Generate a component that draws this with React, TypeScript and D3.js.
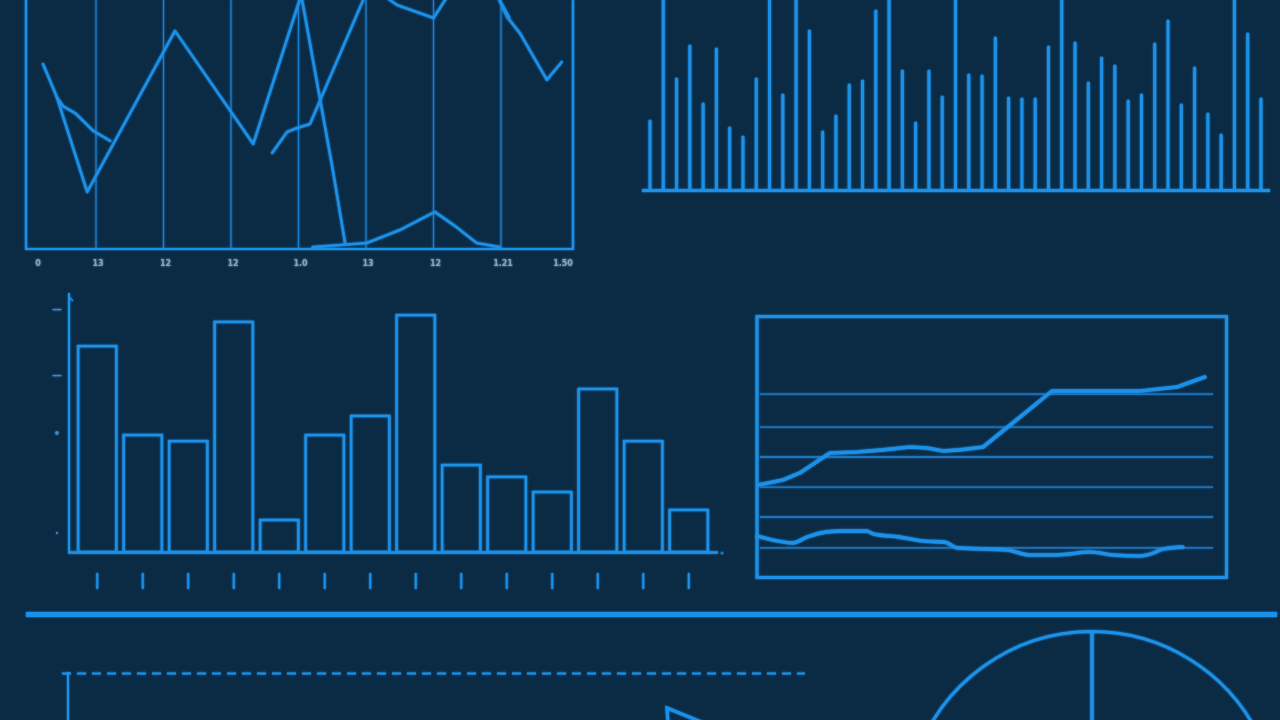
import React from 'react';
import * as d3 from 'd3';

const BG = '#0b2a44';
const BLUE = '#1c90e6';
const GRID = '#1f7fcf';

// ---------- Panel 1: multi-line chart (top-left) ----------
const p1Ticks = [0, 10, 20, 30, 40, 50, 60, 70, 80];
const p1TickLabels = ['0', '13', '12', '12', '1.0', '13', '12', '1.21', '1.50'];
const p1Grid = [10, 20, 30, 40, 50, 60, 70];
const p1LineA: [number, number][] = [[2.15, 74.3], [4.2, 61], [8.7, 22.9], [21.7, 87.6], [33.3, 42.2], [40.4, 102], [45, 33], [46.9, 2.4]];
const p1LineB: [number, number][] = [[4.2, 61], [5.1, 57.4], [6.9, 54.6], [9.6, 47.4], [12.1, 43.4]];
const p1LineC: [number, number][] = [[42.1, 0.8], [46.2, 1.6], [50.1, 2.4], [55, 7.6], [60.2, 14.9], [63.2, 9.2], [66.4, 2.4], [69.8, 0.8]];
const p1LineD: [number, number][] = [[36.1, 38.6], [38.3, 47], [39.8, 48.6], [41.7, 50.2], [49.9, 102], [51.2, 108], [52.5, 102], [54.6, 98], [60, 92.8], [62.2, 102], [65.4, 108], [69.4, 102], [70.9, 93.2], [72.8, 86.7], [76.8, 67.9], [79, 75.1]];
const p1LineE: [number, number][] = [[69.6, 101], [71.2, 93]];

// ---------- Panel 2: spike chart (top-right) ----------
const spikeValues = [
  36.3, 110, 58.4, 75.8, 45.3, 74.2, 32.6, 27.9, 58.4, 110, 50, 110, 83.7, 30.5, 38.9, 55.3,
  57.4, 94.2, 110, 62.6, 35.3, 62.6, 48.9, 110, 60.5, 60, 80, 48.4, 47.9, 47.9, 75.3, 110,
  77.4, 56.3, 69.5, 65.3, 46.8, 50, 76.8, 88.9, 44.7, 64.2, 40, 29, 110, 82.1, 47.9,
];

// ---------- Panel 3: bar chart ----------
const barCategories = ['A', 'B', 'C', 'D', 'E', 'F', 'G', 'H', 'I', 'J', 'K', 'L', 'M', 'N'];
const barValues = [81.7, 46.4, 44, 91.3, 12.7, 46.4, 54, 94, 34.5, 29.8, 23.8, 64.7, 44, 16.7];
const barYTicks = [96, 70, 47, 7];
const barYTickLabels = ['—', '—', '•', '·'];

// ---------- Panel 4: boxed line chart ----------
const p4Grid = [11.5, 23.3, 34.7, 46.2, 57.6, 70.2];
const p4Upper: [number, number][] = [[0.2, 35.5], [5.5, 37.4], [9.1, 40.1], [15.5, 47.7], [21.3, 48.1], [26.8, 48.9], [32.6, 50], [36.2, 49.6], [39.6, 48.5], [43.2, 48.9], [48.1, 50], [62.8, 71.4], [67.2, 71.4], [74.5, 71.4], [81.5, 71.4], [89.4, 72.9], [95.3, 76.7]];
const p4Lower: [number, number][] = [[0, 16], [7.7, 13.4], [10.6, 15.6], [14.9, 17.6], [17.7, 17.9], [23.4, 17.9], [24.7, 16.8], [30.4, 15.6], [35.3, 14.1], [40, 13.7], [42.6, 11.5], [53.2, 10.7], [58.1, 8.8], [63.8, 8.8], [70.9, 9.9], [75.7, 8.8], [81.5, 8.4], [84.3, 9.5], [86.4, 11.1], [90.6, 11.8]];

// ---------- Bottom pie ----------
const pieValues = [35, 25, 40];

export default function App() {
  // Panel 1 scales
  const x1 = d3.scaleLinear().domain([0, 80]).range([28.5, 568.5]);
  const y1 = d3.scaleLinear().domain([0, 100]).range([249, 0]);
  const line1 = d3.line<[number, number]>().x(d => x1(d[0])).y(d => y1(d[1]));

  // Panel 2 scales
  const x2 = d3.scalePoint<number>().domain(spikeValues.map((_, i) => i)).range([650, 1261]);
  const y2 = d3.scaleLinear().domain([0, 100]).range([190, 0]);

  // Panel 3 scales
  const x3 = d3.scaleBand<string>().domain(barCategories).range([74.5, 711.5]).paddingInner(0.16).paddingOuter(0.08);
  const y3 = d3.scaleLinear().domain([0, 100]).range([552, 300]);

  // Panel 4 scales
  const x4 = d3.scaleLinear().domain([0, 100]).range([757, 1227]);
  const y4 = d3.scaleLinear().domain([0, 100]).range([578, 316]);
  const line4Upper = d3.line<[number, number]>().x(d => x4(d[0])).y(d => y4(d[1]));
  const line4Lower = d3.line<[number, number]>().x(d => x4(d[0])).y(d => y4(d[1])).curve(d3.curveMonotoneX);

  // Pie
  const pie = d3.pie<number>().sort(null)(pieValues);
  const arc = d3.arc<d3.PieArcDatum<number>>().innerRadius(0).outerRadius(186);

  return (
    <svg width={1280} height={720} style={{ position: 'fixed', left: 0, top: 0, display: 'block' }}>
      <defs>
        <filter id="glow" x="-5%" y="-5%" width="110%" height="110%">
          <feGaussianBlur stdDeviation="1.2" result="b" />
          <feMerge>
            <feMergeNode in="b" />
            <feMergeNode in="SourceGraphic" />
          </feMerge>
        </filter>
      </defs>
      <rect x={0} y={0} width={1280} height={720} fill={BG} />

      <g filter="url(#glow)">
        {/* Panel 1 */}
        <g>
          {p1Grid.map(g => (
            <line key={g} x1={x1(g)} x2={x1(g)} y1={0} y2={249} stroke={GRID} strokeWidth={1.2} />
          ))}
          <path d={`M26,0 L26,249 L573,249 L573,0`} fill="none" stroke={BLUE} strokeWidth={2.2} />
          {[p1LineA, p1LineB, p1LineC, p1LineD, p1LineE].map((l, i) => (
            <path key={i} d={line1(l) || ''} fill="none" stroke={BLUE} strokeWidth={2.6} strokeLinejoin="round" strokeLinecap="round" />
          ))}
          {p1Ticks.map((t, i) => (
            <text key={t} x={Math.min(Math.max(x1(t) + 2, 38), 563)} y={266} fontSize={8} fontWeight={700}
              fontFamily="DejaVu Sans, sans-serif" textAnchor="middle" fill="#8fb0cc" opacity={0.85}>
              {p1TickLabels[i]}
            </text>
          ))}
        </g>

        {/* Panel 2 */}
        <g>
          {spikeValues.map((v, i) => (
            <line key={i} x1={x2(i)} x2={x2(i)} y1={190} y2={y2(v)} stroke={BLUE} strokeWidth={3} strokeLinecap="round" />
          ))}
          <line x1={642} x2={1270} y1={190.5} y2={190.5} stroke={BLUE} strokeWidth={3} />
        </g>

        {/* Panel 3 */}
        <g>
          <line x1={69} x2={69} y1={293} y2={552} stroke={BLUE} strokeWidth={2} />
          <path d="M69,297 L73,301" stroke={BLUE} strokeWidth={1.2} fill="none" />
          <line x1={68} x2={718} y1={552.5} y2={552.5} stroke={BLUE} strokeWidth={2.4} />
          <circle cx={722} cy={553} r={1.5} fill={BLUE} opacity={0.7} />
          {barYTicks.map((t, i) => (
            <text key={t} x={57} y={y3(t) + 3} fontSize={10} fontWeight={700} fontFamily="DejaVu Sans, sans-serif" textAnchor="middle" fill="#3f8fd6" opacity={0.9}>
              {barYTickLabels[i]}
            </text>
          ))}
          {barCategories.map((c, i) => (
            <rect key={c} x={x3(c)} y={y3(barValues[i])} width={x3.bandwidth()} height={552 - y3(barValues[i])}
              fill="none" stroke={BLUE} strokeWidth={2.5} />
          ))}
          {barCategories.map(c => {
            const cx = (x3(c) || 0) + x3.bandwidth() / 2;
            return <line key={c} x1={cx} x2={cx} y1={573} y2={589} stroke={BLUE} strokeWidth={2} />;
          })}
        </g>

        {/* Panel 4 */}
        <g>
          {p4Grid.map(g => (
            <line key={g} x1={760} x2={1213} y1={y4(g)} y2={y4(g)} stroke={GRID} strokeWidth={1.4} />
          ))}
          <rect x={757} y={316.5} width={469.5} height={261} fill="none" stroke={BLUE} strokeWidth={3} />
          <path d={line4Upper(p4Upper) || ''} fill="none" stroke={BLUE} strokeWidth={3.6} strokeLinejoin="round" strokeLinecap="round" />
          <path d={line4Lower(p4Lower) || ''} fill="none" stroke={BLUE} strokeWidth={3.6} strokeLinejoin="round" strokeLinecap="round" />
        </g>

        {/* Divider */}
        <line x1={26} x2={1277} y1={614.5} y2={614.5} stroke={BLUE} strokeWidth={5} />

        {/* Bottom area */}
        <g>
          <line x1={62} x2={805} y1={673.5} y2={673.5} stroke={BLUE} strokeWidth={2} strokeDasharray="9 6" />
          <line x1={68} x2={68} y1={672} y2={722} stroke={BLUE} strokeWidth={2} />
          <path d="M668,724 L667,708 L716,728" fill="none" stroke={BLUE} strokeWidth={3.2} strokeLinejoin="miter" />
          <g transform="translate(1092,817.5)">
            {pie.map((s, i) => (
              <path key={i} d={arc(s) || ''} fill="none" stroke={BLUE} strokeWidth={3} />
            ))}
          </g>
        </g>
      </g>
    </svg>
  );
}
